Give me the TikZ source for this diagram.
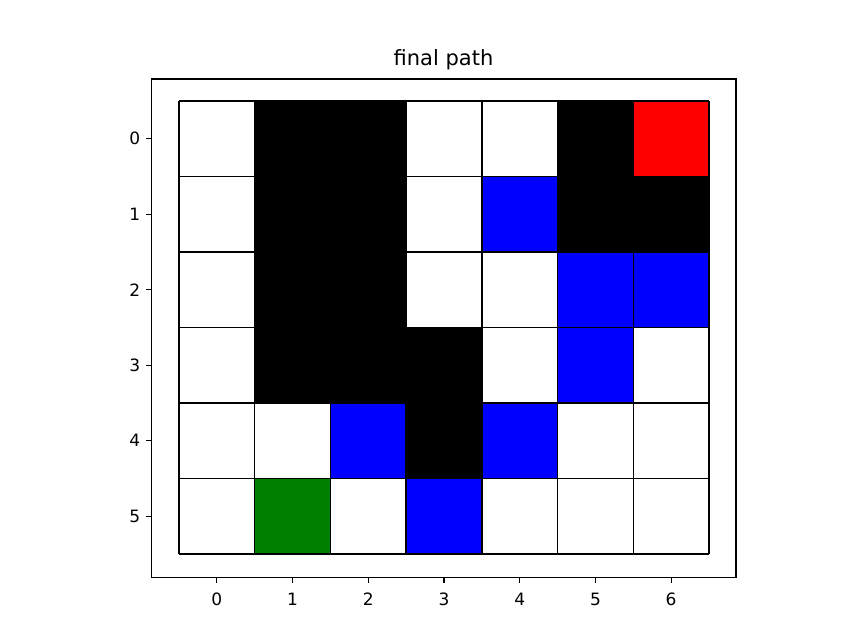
\documentclass[tikz,border=0pt]{standalone}
\usepackage{fontspec}
\setmainfont{DejaVu Sans}
\definecolor{mblue}{RGB}{0,0,255}
\definecolor{mgreen}{RGB}{0,128,0}
\definecolor{mred}{RGB}{255,0,0}
\newcommand{\cellfill}[1]{%
  \if K#1\def\fc{black}\fi
  \if B#1\def\fc{mblue}\fi
  \if G#1\def\fc{mgreen}\fi
  \if R#1\def\fc{mred}\fi
  \if W#1\def\fc{white}\fi}
\begin{document}
\begin{tikzpicture}[x=1pt,y=-1pt,
  cell/.style={draw=black,line width=1.5pt},
  spine/.style={draw=black,line width=1.2pt},
  tick/.style={draw=black,line width=1.2pt},
  ticklabel/.style={font=\fontsize{17}{19}\selectfont,inner sep=0pt},
  titlelabel/.style={font=\fontsize{21}{24}\selectfont,inner sep=0pt}]
\useasboundingbox (0,0) rectangle (865,621);
\fill[white] (0,0) rectangle (865,621);
\def\cw{75.714}
\def\ch{75.5}
\foreach \r/\row in {0/{W,K,K,W,W,K,R},1/{W,K,K,W,B,K,K},2/{W,K,K,W,W,B,B},3/{W,K,K,K,W,B,W},4/{W,W,B,K,B,W,W},5/{W,G,W,B,W,W,W}}{
  \foreach \col [count=\cc from 0] in \row {
    \cellfill{\col}
    \fill[\fc] ({179+\cc*\cw},{101+\r*\ch}) rectangle ({179+(\cc+1)*\cw},{101+(\r+1)*\ch});
  }
}
\foreach \i in {0,...,7}{
  \draw[cell] ({179+\i*\cw},101) -- ({179+\i*\cw},554);
}
\foreach \j in {0,...,6}{
  \draw[cell] (179,{101+\j*\ch}) -- (709,{101+\j*\ch});
}
% axes
\draw[spine] (151.7,79) rectangle (736,577.3);
\foreach \i in {0,...,6}{
  \draw[tick] ({179+(\i+0.5)*\cw},577.3) -- ({179+(\i+0.5)*\cw},583.3);
  \node[ticklabel,anchor=north] (xl\i) at ({179+(\i+0.5)*\cw},592.5) {\i};
}
\foreach \j in {0,...,5}{
  \draw[tick] (151.7,{101+(\j+0.5)*\ch}) -- (145.7,{101+(\j+0.5)*\ch});
  \node[ticklabel,anchor=east] (yl\j) at (140.5,{101+(\j+0.5)*\ch}) {\j};
}
\node[titlelabel,anchor=base] (title) at (443.5,65) {final path};
\end{tikzpicture}
\end{document}
